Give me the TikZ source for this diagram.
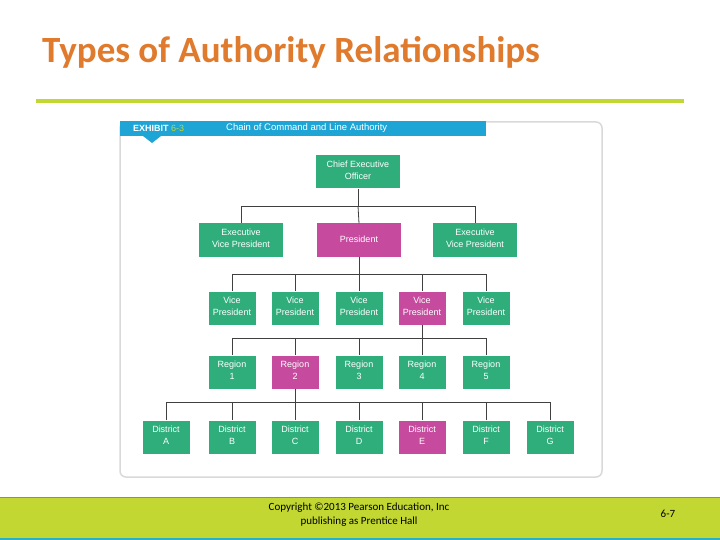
\documentclass[tikz,border=0pt]{standalone}
\usepackage{fontspec}
\setmainfont{Carlito}
\newfontfamily\boxfont{Liberation Sans}
\definecolor{boxgreen}{HTML}{2FAE7C}
\definecolor{boxmag}{HTML}{C64A9E}
\definecolor{hdrblue}{HTML}{1EA5D5}
\definecolor{lime}{HTML}{C2D732}
\definecolor{titleor}{HTML}{E07A2C}
\definecolor{teal}{HTML}{2AAFC8}
\begin{document}
\begin{tikzpicture}[x=1pt,y=-1pt,
  ob/.style={fill=boxgreen,text=white,font=\boxfont\fontsize{9}{12.5}\selectfont,align=center,inner sep=0pt,
    execute at begin node=\strut, execute at end node=\strut},
  wide/.style={ob,minimum width=84pt,minimum height=33pt},
  narrow/.style={ob,minimum width=47pt,minimum height=33pt},
  mag/.style={fill=boxmag},
  conn/.style={draw=black!75,line width=0.8pt}]
\useasboundingbox (0,0) rectangle (720,540);
\fill[white] (0,0) rectangle (720,540);
\node[anchor=west,text=titleor,font=\bfseries\fontsize{37}{40}\selectfont,inner sep=0pt] (title) at (42,52) {Types of Authority Relationships};
\draw[lime,line width=4pt] (36,101) -- (684,101);
% panel
\draw[black!15,fill=white,line width=1.5pt,rounded corners=6pt] (120,122) rectangle (602,477);
\fill[hdrblue] (120,121) rectangle (486,136);
\fill[hdrblue] (143,136) -- (161,136) -- (152,143) -- cycle;
\node[anchor=west,text=white,font=\boxfont\bfseries\fontsize{9}{9}\selectfont,inner sep=0pt] (ex) at (133,128.5) {EXHIBIT \textcolor{lime}{\mdseries 6-3}};
\node[anchor=west,text=white,font=\boxfont\fontsize{9.5}{9}\selectfont,inner sep=0pt] (hd) at (226,128) {Chain of Command and Line Authority};
% nodes
\node[wide] (ceo) at (358,172) {Chief Executive\\Officer};
\node[wide] (evp1) at (241,240) {Executive\\Vice President};
\node[wide,mag] (pres) at (359,240) {President};
\node[wide] (evp2) at (475,240) {Executive\\Vice President};
\foreach \i/\x in {1/232,2/295,3/359,4/422,5/486}{
  \node[narrow] (vp\i) at (\x,308) {Vice\\President};
  \node[narrow] (r\i) at (\x,372) {Region\\\i};
}
\node[narrow,mag] at (vp4) {Vice\\President};
\node[narrow,mag] at (r2) {Region\\2};
\foreach \i/\x/\l in {1/166/A,2/232/B,3/295/C,4/359/D,5/422/E,6/486/F,7/550/G}{
  \node[narrow] (d\i) at (\x,437) {District\\\l};
}
\node[narrow,mag] at (d5) {District\\E};
% connectors
\coordinate (j1) at (358,206);
\draw[conn] (ceo.south) -- (j1) -| (evp1.north);
\draw[conn] (j1) -| (evp2.north);
\draw[conn] (j1) -- (pres.north);
\coordinate (j2) at (359,274);
\draw[conn] (pres.south) -- (j2);
\foreach \i in {1,...,5}{\draw[conn] (j2) -| (vp\i.north);}
\coordinate (j3) at (422,338);
\draw[conn] (vp4.south) -- (j3);
\foreach \i in {1,...,5}{\draw[conn] (j3) -| (r\i.north);}
\coordinate (j4) at (295,402);
\draw[conn] (r2.south) -- (j4);
\foreach \i in {1,...,7}{\draw[conn] (j4) -| (d\i.north);}
% footer
\fill[lime] (0,498) rectangle (720,538);
\draw[teal,line width=1.5pt] (0,497.5) -- (720,497.5);
\draw[teal,line width=1.5pt] (0,539) -- (720,539);
\node[align=center,font=\fontsize{11}{13.5}\selectfont,inner sep=0pt] (copy) at (359,514.5) {Copyright ©2013 Pearson Education, Inc\\publishing as Prentice Hall};
\node[font=\fontsize{11}{13}\selectfont,inner sep=0pt] (pg) at (668,514) {6-7};
\end{tikzpicture}
\end{document}
